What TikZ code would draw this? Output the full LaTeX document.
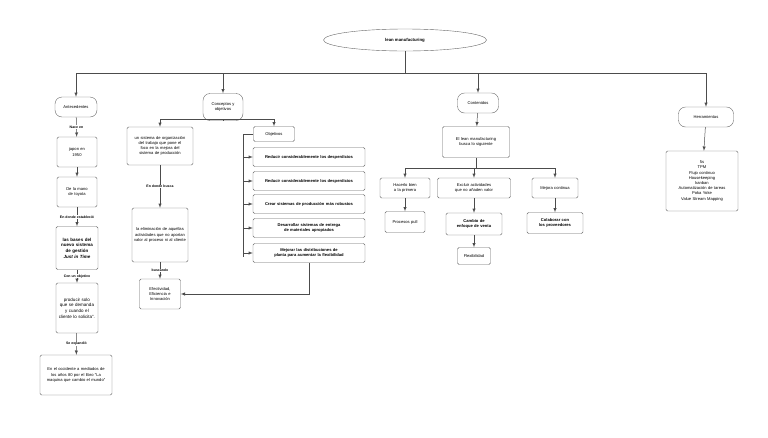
\documentclass[tikz,border=0pt]{standalone}
\usepackage{fontspec}
\setmainfont{Liberation Sans}
\usepackage{tikz}
\usetikzlibrary{shapes,arrows,positioning}
\hyphenpenalty=10000
\tikzset{
  box/.style={draw=black!60, rounded corners=1.5pt, align=center, inner sep=1pt, font=\fontsize{4.1}{5.2}\selectfont},
  pill/.style={box, rounded corners=7pt},
  lbl/.style={fill=white, inner sep=0.5pt, font=\fontsize{3.5}{4}\selectfont\bfseries},
  link/.style={-latex, draw=black!70, line width=0.5pt}
}
\begin{document}
\begin{tikzpicture}[x=1pt, y=-1pt]
\useasboundingbox (0,0) rectangle (768,437);
\node [draw=black!60, ellipse, minimum width=163pt, minimum height=22pt, font=\fontsize{4.3}{5}\selectfont\bfseries] (lean) at (405,40) {lean manufacturing};

\node [pill, minimum width=42pt, minimum height=20pt] (ante) at (76,107) {Antecedentes};
\node [pill, minimum width=40pt, minimum height=27pt] (conc) at (223,107) {Conceptos y\\objetivos};
\node [pill, minimum width=41pt, minimum height=20pt] (cont) at (478,103) {Contenidos};
\node [pill, minimum width=55pt, minimum height=20pt] (herr) at (706,117) {Herramientas};

\draw [draw=black!70, line width=0.5pt] (lean.south) -- (405,73);
\draw [draw=black!70, line width=0.5pt] (76,73) -- (706,73);
\foreach \n/\x in {ante/76, conc/223, cont/478, herr/706}
  \draw [link] (\x,73) -- (\n);

% Antecedentes
\node [box, minimum width=40pt, minimum height=30pt, text width=36pt] (japon) at (77,152) {japon en\\1950};
\node [box, minimum width=40pt, minimum height=30pt, text width=36pt] (toyota) at (77,192) {De la mano\\de toyota};
\node [box, minimum width=42pt, minimum height=43pt, text width=38pt, font=\fontsize{4.5}{5.6}\selectfont\bfseries] (bases) at (77,248) {las bases del nuevo sistema de gestión \textit{Just in Time}};
\node [box, minimum width=42pt, minimum height=50pt, text width=38pt, font=\fontsize{4.5}{5.6}\selectfont] (prod) at (77,308) {producir solo que se demanda y cuando el cliente lo solicita''.};
\node [box, minimum width=72pt, minimum height=40pt, text width=68pt] (occ) at (76,375) {En el occidente a mediados de los años 80 por el libro ``La maquina que cambio el mundo''};
\draw [link] (ante) -- node [lbl] {Nace en} (japon);
\draw [link] (japon) -- (toyota);
\draw [link] (toyota) -- node [lbl] {En donde estableció} (bases);
\draw [link] (bases) -- node [lbl] {Con un objetivo} (prod);
\draw [link] (prod) -- node [lbl] {Se expandió} (occ);

% Conceptos y objetivos
\node [box, minimum width=66pt, minimum height=38pt, text width=62pt] (sist) at (160,146) {un sistema de organización del trabajo que pone el foco en la mejora del sistema de producción};
\node [box, minimum width=56pt, minimum height=54pt, text width=52pt] (elim) at (160,235) {la eliminación de aquellas actividades que no aportan valor al proceso ni al cliente};
\node [box, minimum width=41pt, minimum height=30pt, text width=37pt] (efec) at (160,294) {Efectividad, Eficiencia e Innovación};
\node [box, minimum width=41pt, minimum height=15pt] (obj) at (274,134) {Objetivos};
\draw [draw=black!70, line width=0.5pt] (conc.south) -- (223,119);
\draw [draw=black!70, line width=0.5pt] (160,119) -- (274,119);
\draw [link] (160,119) -- (sist);
\draw [link] (274,119) -- (obj);
\draw [link] (sist) -- node [lbl] {En donde busca} (elim);
\draw [link] (elim) -- node [lbl] {buscando} (efec);

\foreach \i/\y/\t in {1/157/{Reducir considerablemente los desperdicios},
                     2/181/{Reducir considerablemente los desperdicios},
                     3/204/{Crear sistemas de producción más robustos},
                     4/228/{Desarrollar sistemas de entrega de materiales apropiados},
                     5/253/{Mejorar las distribuciones de planta para aumentar la flexibilidad}}
{
  \node [box, minimum width=112pt, minimum height=19pt, text width=104pt, font=\fontsize{4.1}{5.2}\selectfont\bfseries] (o\i) at (309,\y) {\t};
  \draw [link] (243,\y) -- (o\i);
}
\draw [draw=black!70, line width=0.5pt] (obj.west) -- (243,134) -- (243,257);
\draw [link] (o5.south) |- (efec.east);

% Contenidos
\node [box, minimum width=67pt, minimum height=31pt, text width=63pt] (busca) at (476,142) {El lean manufacturing busca lo siguiente};
\node [box, minimum width=50pt, minimum height=20pt, text width=46pt] (hacer) at (405,188) {Hacerlo bien a la primera};
\node [box, minimum width=73pt, minimum height=20pt, text width=69pt] (excl) at (474,188) {Excluir actividades que no añaden valor};
\node [box, minimum width=46pt, minimum height=20pt, text width=42pt] (mejo) at (555,188) {Mejora continua};
\node [box, minimum width=40pt, minimum height=21pt, text width=36pt] (pull) at (405,222) {Procesos pull};
\node [box, minimum width=56pt, minimum height=22pt, text width=52pt, font=\fontsize{4.1}{5.2}\selectfont\bfseries] (camb) at (474,224) {Cambio de enfoque de venta};
\node [box, minimum width=56pt, minimum height=21pt, text width=52pt, font=\fontsize{4.1}{5.2}\selectfont\bfseries] (cola) at (555,223) {Colaborar con los proveedores};
\node [box, minimum width=33pt, minimum height=17pt] (flex) at (474,256) {Flexibilidad};
\draw [link] (cont) -- (busca);
\draw [draw=black!70, line width=0.5pt] (busca.south) -- (476,168);
\draw [draw=black!70, line width=0.5pt] (405,168) -- (555,168);
\foreach \n/\x in {hacer/405, excl/474, mejo/555}
  \draw [link] (\x,168) -- (\n);
\draw [link] (hacer) -- (pull);
\draw [link] (excl) -- (camb);
\draw [link] (mejo) -- (cola);
\draw [link] (camb) -- (flex);

% Herramientas
\node [box, minimum width=72pt, minimum height=60pt, text width=68pt] (lista) at (702,181) {5s\\TPM\\Flujo continuo\\Housekeeping\\kanban\\Automatización de tareas\\Poka Yoke\\Value Stream Mapping};
\draw [link] (herr) -- (lista);
\end{tikzpicture}
\end{document}
